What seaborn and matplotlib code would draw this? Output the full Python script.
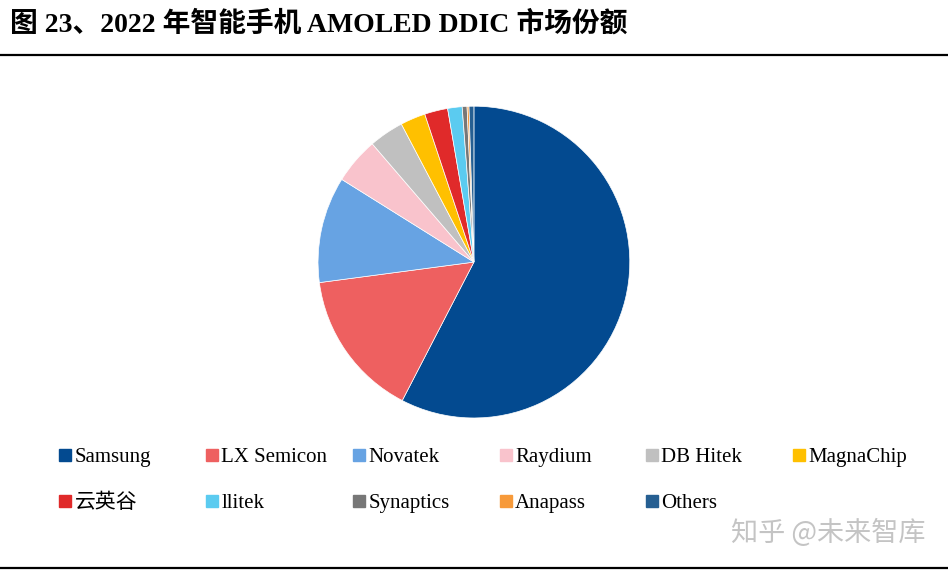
import matplotlib
matplotlib.use('Agg')
import matplotlib.pyplot as plt
import seaborn as sns
from matplotlib.lines import Line2D

# Market share values (%), clockwise from 12 o'clock
companies = ['Samsung', 'LX Semicon', 'Novatek', 'Raydium', 'DB Hitek', 'MagnaChip',
             '云英谷', 'llitek', 'Synaptics', 'Anapass', 'Others']
shares = [57.6, 15.3, 11.0, 4.8, 3.6, 2.6, 2.4, 1.5, 0.5, 0.2, 0.5]
colors = ['#034A90', '#EE6060', '#67A3E3', '#F9C3CC', '#C0C0C0', '#FFC000',
          '#E02A2A', '#5BCBF0', '#777777', '#F79A3A', '#265F92']

sns.set_theme(style='white')
plt.rcParams['font.family'] = ['Liberation Serif', 'Noto Sans CJK SC', 'DejaVu Sans']
plt.rcParams['text.color'] = 'black'

fig = plt.figure(figsize=(9.48, 5.71), dpi=100)

# Title and rules
fig.text(0.011, 0.957, '图 23、2022 年智能手机 AMOLED DDIC 市场份额', fontsize=20,
         fontweight='bold', va='center', ha='left', color='black')
fig.add_artist(Line2D([0, 1], [0.904, 0.904], color='black', lw=1.6))
fig.add_artist(Line2D([0, 1], [0.005, 0.005], color='black', lw=1.6))

# Pie
ax = fig.add_axes([0.3354, 0.268, 0.329, 0.546])
ax.pie(shares, colors=colors, startangle=90, counterclock=False,
       wedgeprops={'linewidth': 0.5, 'edgecolor': 'white'})
ax.set_xlim(-1, 1)
ax.set_ylim(-1, 1)
ax.set_aspect('equal')

# Legend: one small legend per column so spacing stays even
col_x = [0.062, 0.217, 0.372, 0.527, 0.681, 0.836]
for c, x in enumerate(col_x):
    idx = [i for i in (c, c + 6) if i < len(companies)]
    handles = [Line2D([], [], marker='s', ls='', color=colors[i], markersize=8) for i in idx]
    labels = [companies[i] for i in idx]
    fig.legend(handles, labels, loc='upper left', bbox_to_anchor=(x, 0.216),
               frameon=False, fontsize=15, handlelength=0.6, handletextpad=0.15,
               labelspacing=1.25, borderpad=0, borderaxespad=0, labelcolor='black')

# Watermark
fig.text(0.976, 0.066, '知乎 @未来智库', fontsize=19.5, color='#c4c4c4',
         ha='right', va='center', family=['Noto Sans CJK SC', 'DejaVu Sans'])

fig.savefig('out.png', dpi=100)
